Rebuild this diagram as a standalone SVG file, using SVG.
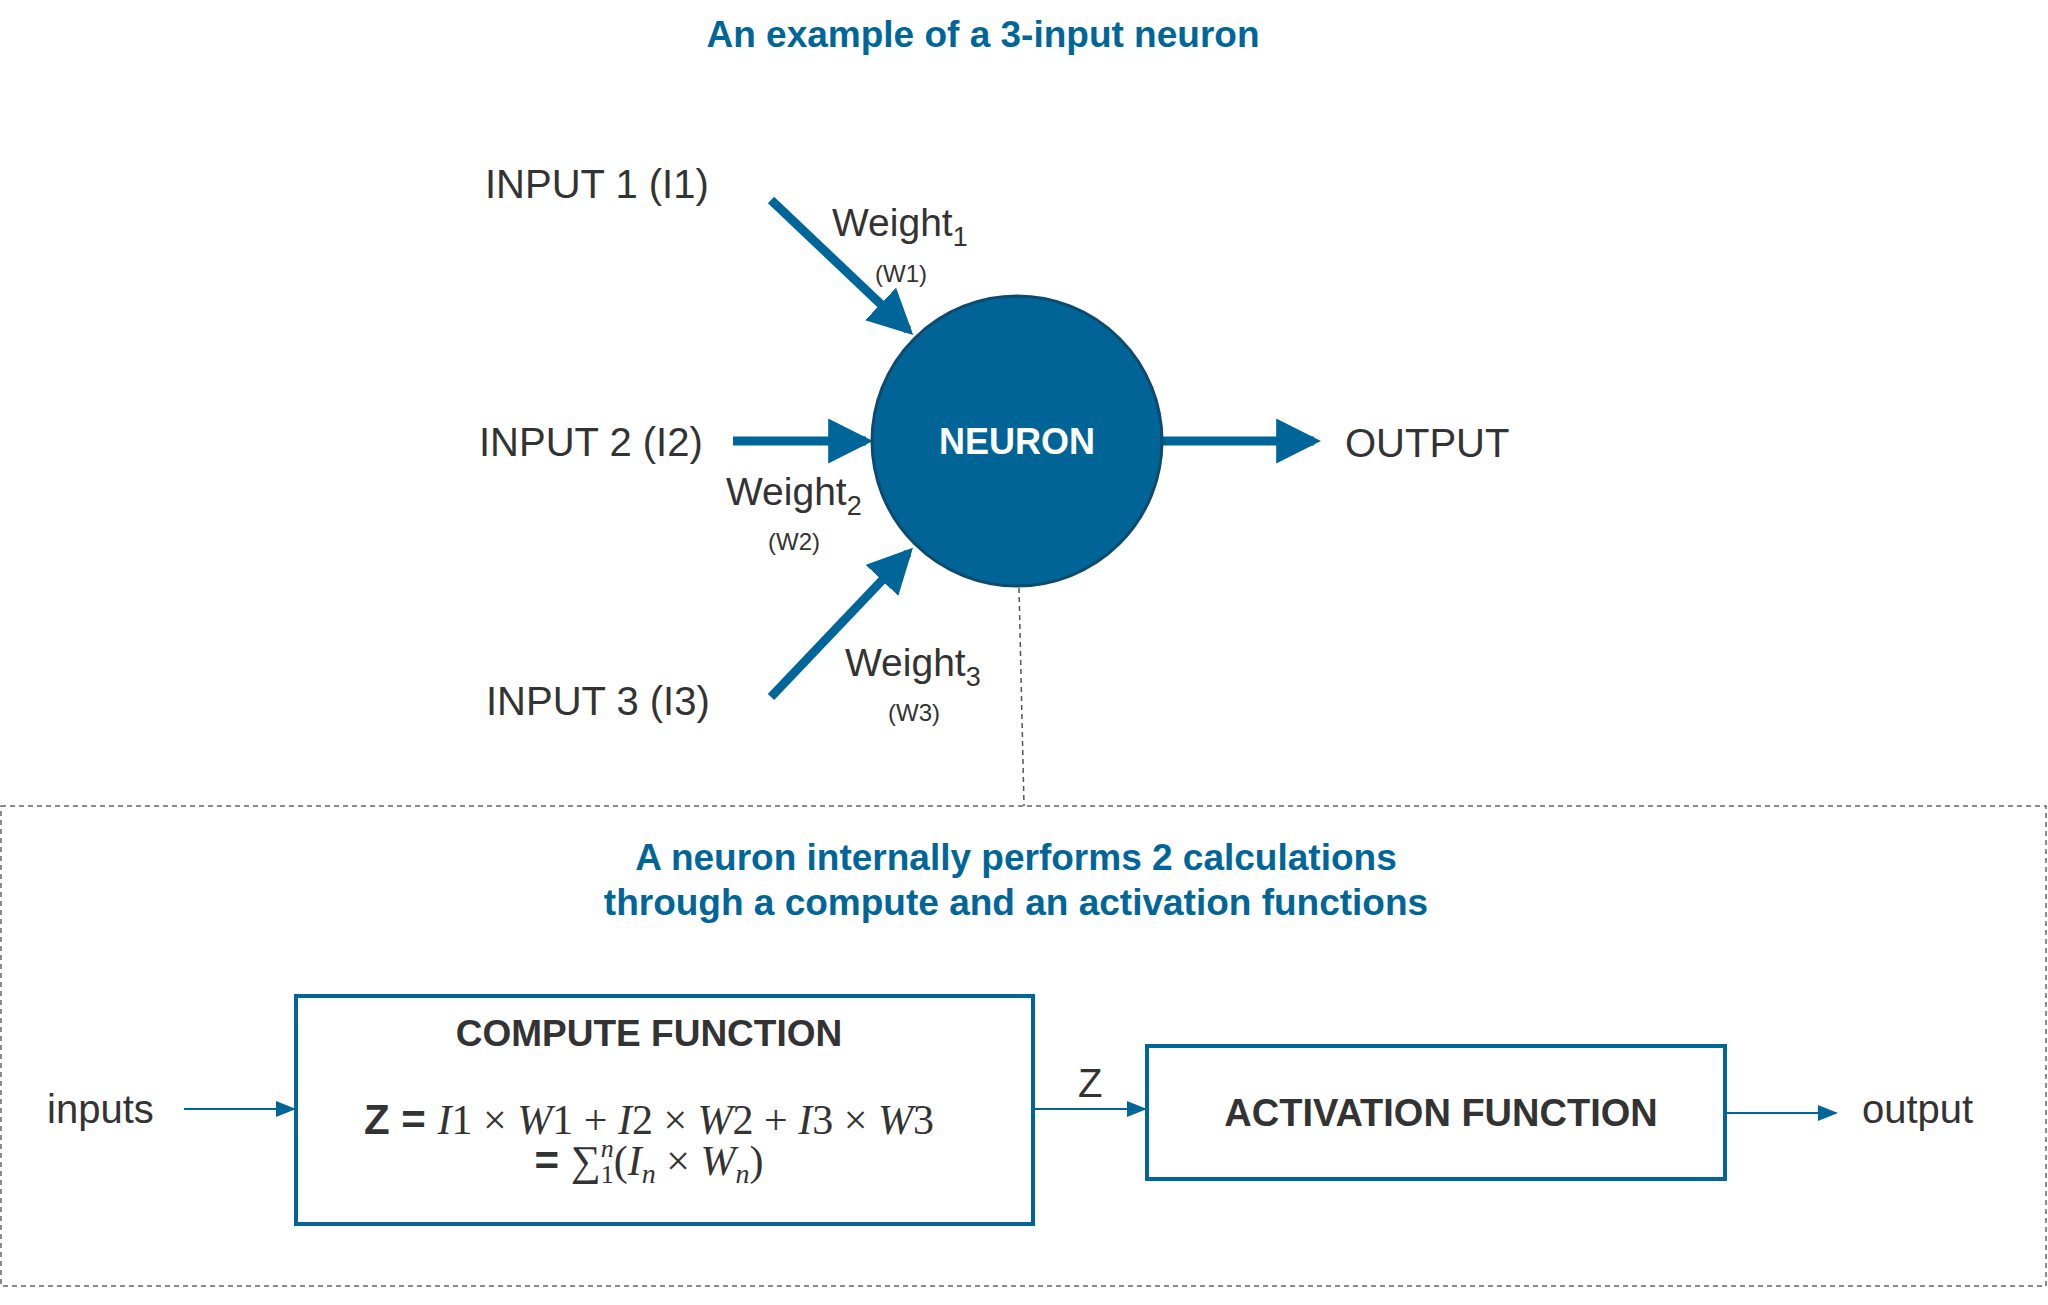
<svg xmlns="http://www.w3.org/2000/svg" width="2048" height="1305" viewBox="0 0 2048 1305">
<defs>
<style>
.t{font-family:"Liberation Sans",Arial,sans-serif;fill:#333}
.h{font-family:"Liberation Sans",Arial,sans-serif;fill:#00669A;font-weight:bold;font-size:37px}
.lab{font-size:40px}
.w{font-size:39px}
.ws{font-size:24px}
.m{font-family:"Liberation Serif","DejaVu Serif",serif;font-style:italic;fill:#333;font-size:42px}
.thick{stroke:#00669A;stroke-width:9;fill:none}
.thin{stroke:#00669A;stroke-width:2;fill:none}
</style>
<marker id="ab" markerWidth="5" markerHeight="5" refX="4.2" refY="2.5" orient="auto" markerUnits="strokeWidth"><path d="M0,0L5,2.5L0,5z" fill="#00669A"/></marker>
<marker id="as" markerWidth="10" markerHeight="8" refX="9" refY="4" orient="auto" markerUnits="strokeWidth"><path d="M0,0L10,4L0,8z" fill="#00669A"/></marker>
</defs>
<rect width="2048" height="1305" fill="#fff"/>
<text class="h" x="983" y="47" text-anchor="middle">An example of a 3-input neuron</text>
<g id="connectors">
<line class="thick" x1="771" y1="200" x2="908" y2="330" marker-end="url(#ab)"/>
<line class="thick" x1="733" y1="441" x2="866" y2="441" marker-end="url(#ab)"/>
<line class="thick" x1="771" y1="697" x2="908" y2="553" marker-end="url(#ab)"/>
<line class="thick" x1="1162" y1="441" x2="1314" y2="441" marker-end="url(#ab)"/>
<line x1="1019" y1="588" x2="1024" y2="806" stroke="#555" stroke-width="1.5" stroke-dasharray="5,4"/>
<line class="thin" x1="184" y1="1109" x2="294" y2="1109" marker-end="url(#as)"/>
<line class="thin" x1="1033" y1="1109" x2="1145" y2="1109" marker-end="url(#as)"/>
<line class="thin" x1="1725" y1="1113" x2="1836" y2="1113" marker-end="url(#as)"/>
</g>
<g id="neuron">
<circle cx="1017" cy="441" r="145" fill="#006496" stroke="#0d4a6e" stroke-width="3"/>
<text class="t" x="1017" y="454" text-anchor="middle" font-size="36" font-weight="bold" style="fill:#fff">NEURON</text>
</g>
<g id="inputs">
<text class="t lab" x="485" y="198">INPUT 1 (I1)</text>
<text class="t lab" x="479" y="456">INPUT 2 (I2)</text>
<text class="t lab" x="486" y="715">INPUT 3 (I3)</text>
<text class="t lab" x="1345" y="457">OUTPUT</text>
</g>
<g id="weights">
<text class="t w" x="832" y="236">Weight<tspan font-size="27" dy="10">1</tspan></text>
<text class="t ws" x="901" y="282" text-anchor="middle">(W1)</text>
<text class="t w" x="726" y="505">Weight<tspan font-size="27" dy="10">2</tspan></text>
<text class="t ws" x="794" y="550" text-anchor="middle">(W2)</text>
<text class="t w" x="845" y="676">Weight<tspan font-size="27" dy="10">3</tspan></text>
<text class="t ws" x="914" y="721" text-anchor="middle">(W3)</text>
</g>
<g id="internal">
<rect x="1" y="806" width="2045" height="480" fill="none" stroke="#666" stroke-width="1.5" stroke-dasharray="5,4"/>
<text class="h" x="1016" y="870" text-anchor="middle">A neuron internally performs 2 calculations</text>
<text class="h" x="1016" y="915" text-anchor="middle">through a compute and an activation functions</text>
</g>
<g id="compute">
<rect x="296" y="996" width="737" height="228" fill="#fff" stroke="#00669A" stroke-width="4"/>
<text class="t" x="649" y="1046" text-anchor="middle" font-size="37" font-weight="bold">COMPUTE FUNCTION</text>
<text class="m" x="649" y="1134" text-anchor="middle"><tspan style="font-family:'Liberation Sans',Arial,sans-serif;font-style:normal;font-weight:bold">Z = </tspan>I<tspan font-style="normal">1 × </tspan>W<tspan font-style="normal">1 + </tspan>I<tspan font-style="normal">2 × </tspan>W<tspan font-style="normal">2 + </tspan>I<tspan font-style="normal">3 × </tspan>W<tspan font-style="normal">3</tspan></text>
<text class="m" x="649" y="1175" text-anchor="middle"><tspan style="font-family:'Liberation Sans',Arial,sans-serif;font-style:normal;font-weight:bold">= </tspan><tspan font-style="normal">∑</tspan><tspan font-size="26" font-style="normal" dy="8">1</tspan><tspan font-size="26" dx="-13" dy="-26">n</tspan><tspan font-style="normal" dy="18">(</tspan>I<tspan font-size="28" dy="8">n</tspan><tspan font-style="normal" dy="-8"> × </tspan>W<tspan font-size="28" dy="8">n</tspan><tspan font-style="normal" dy="-8">)</tspan></text>
</g>
<g id="activation">
<rect x="1147" y="1046" width="578" height="133" fill="#fff" stroke="#00669A" stroke-width="4"/>
<text class="t" x="1441" y="1126" text-anchor="middle" font-size="38" font-weight="bold">ACTIVATION FUNCTION</text>
</g>
<g id="labels">
<text class="t lab" x="47" y="1123">inputs</text>
<text class="t lab" x="1078" y="1097">Z</text>
<text class="t lab" x="1862" y="1123">output</text>
</g>
</svg>
